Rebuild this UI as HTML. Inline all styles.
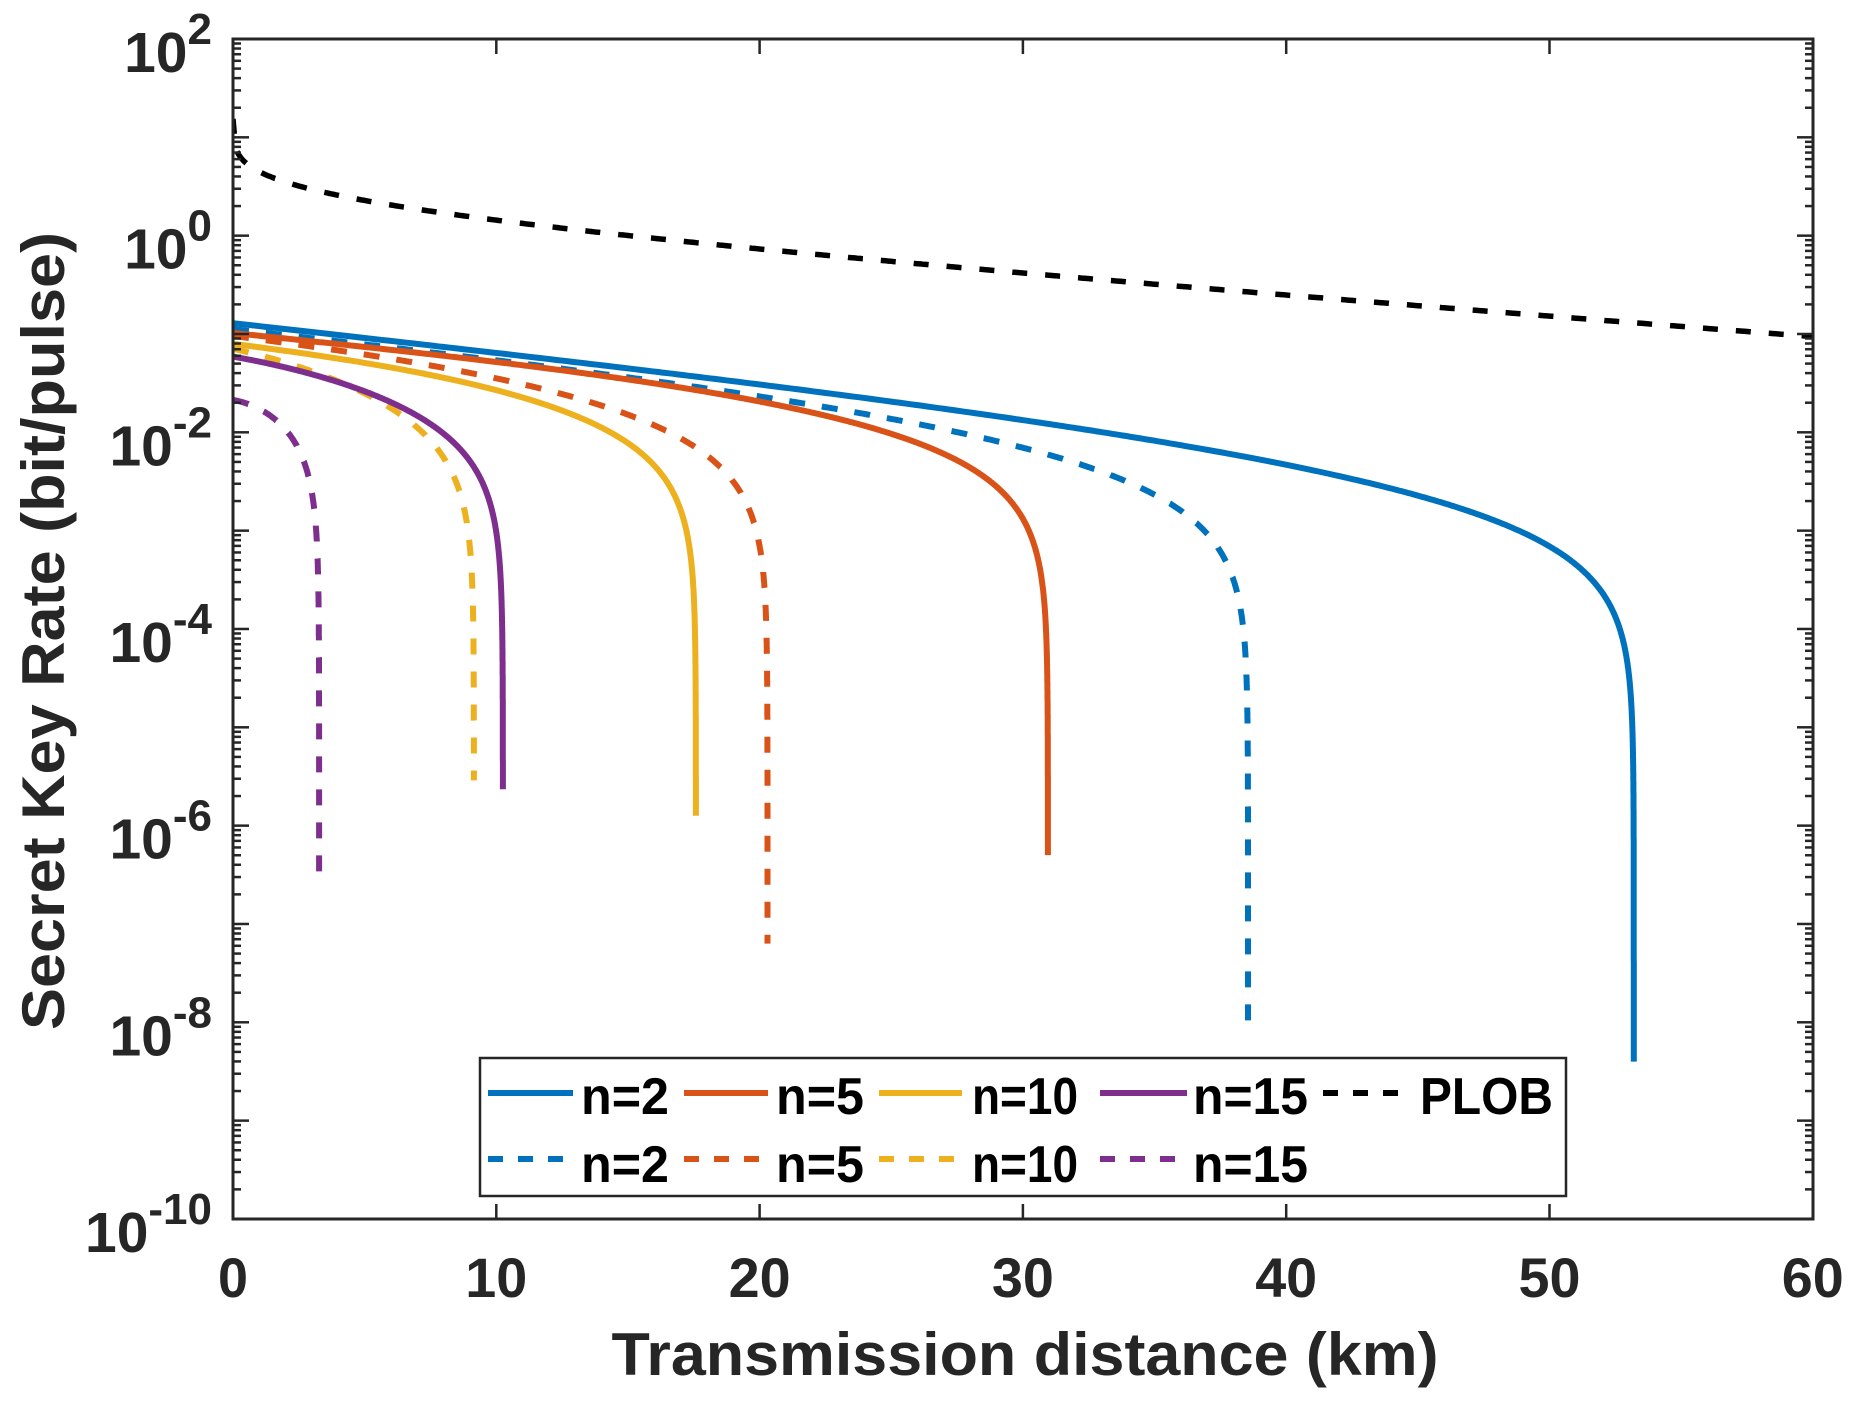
<!DOCTYPE html>
<html><head><meta charset="utf-8"><style>
html,body{margin:0;padding:0;background:#fff;}
svg{display:block;font-family:"Liberation Sans",Arial,sans-serif;font-weight:bold;}
</style></head><body>
<svg id="s" width="1858" height="1405" viewBox="0 0 1858 1405" xmlns="http://www.w3.org/2000/svg">
<rect x="0" y="0" width="1858" height="1405" fill="#fff"/>
<defs><clipPath id="c"><rect x="233" y="39" width="1580" height="1180"/></clipPath></defs>
<g id="curves" clip-path="url(#c)" fill="none" stroke-linejoin="round"></g>
<g id="ticks" stroke="#262626" stroke-width="2.5"></g>
<rect x="233" y="39" width="1580" height="1180" fill="none" stroke="#262626" stroke-width="3"/>
<g id="labels" fill="#262626"></g>
<text x="1025" y="1375" font-size="60" text-anchor="middle" fill="#262626" textLength="827" lengthAdjust="spacingAndGlyphs">Transmission distance (km)</text>
<text transform="translate(64,631) rotate(-90)" font-size="60" text-anchor="middle" fill="#262626" textLength="798" lengthAdjust="spacingAndGlyphs">Secret Key Rate (bit/pulse)</text>
<rect x="480" y="1058" width="1086" height="138" fill="#fff" stroke="#262626" stroke-width="2.5"/>
<g id="legend"></g>
</svg>
<script>
var NS="http://www.w3.org/2000/svg";
function X(d){return 233+26.33*d;}
function Y(L){return 39+98.33*(2-L);}
function el(p,t,a,txt){var e=document.createElementNS(NS,t);for(var k in a)e.setAttribute(k,a[k]);if(txt!=null)e.textContent=txt;p.appendChild(e);return e;}
var cg=document.getElementById('curves'),tg=document.getElementById('ticks'),lg=document.getElementById('labels'),leg=document.getElementById('legend');
for(var i=0;i<=6;i++){var x=X(i*10);el(tg,'line',{x1:x,y1:1219,x2:x,y2:1204});el(tg,'line',{x1:x,y1:39,x2:x,y2:54});
 var w=(i==0?30:62);
 el(lg,'text',{x:x,y:1297,'font-size':56,'text-anchor':'middle',textLength:w,lengthAdjust:'spacingAndGlyphs'},String(i*10));}
for(var e=-10;e<=2;e++){var y=Y(e);el(tg,'line',{x1:233,y1:y,x2:249,y2:y});el(tg,'line',{x1:1813,y1:y,x2:1797,y2:y});
 if(e<2){for(var m=2;m<=9;m++){var yy=Y(e+Math.log10(m));el(tg,'line',{x1:233,y1:yy,x2:241,y2:yy});el(tg,'line',{x1:1813,y1:yy,x2:1805,y2:yy});}}
 if(e%2==0){var t=el(lg,'text',{x:212,y:y+33,'text-anchor':'end'});
  el(t,'tspan',{'font-size':57},'10');el(t,'tspan',{'font-size':44,dy:-28},String(e));}}
var pts=[];for(var i=0;i<=600;i++){var d=0.0005+i*0.1;var eta=Math.pow(10,-0.02*d);var r=-Math.log2(1-eta);pts.push(X(d).toFixed(1)+','+Y(Math.log10(r)).toFixed(1));}
el(cg,'polyline',{points:pts.join(' '),stroke:'#000',"stroke-width":5.5,'stroke-dasharray':'15,18'});
var C={b:'#0072BD',o:'#D95319',y:'#EDB120',p:'#7E2F8E'};
var series=[
 [-0.89,0.03,53.2,3,-8.4,C.b,0],
 [-0.95,0.031,38.55,3,-8.0,C.b,1],
 [-0.99,0.028,30.95,3,-6.3,C.o,0],
 [-1.02,0.035,20.3,2.5,-7.2,C.o,1],
 [-1.1,0.035,17.58,2.5,-5.9,C.y,0],
 [-1.15,0.06,9.15,2,-5.54,C.y,1],
 [-1.23,0.047,10.25,2,-5.63,C.p,0],
 [-1.67,0.05,3.27,2,-6.6,C.p,1]];
series.forEach(function(s){var p=[];var N=800;
 for(var i=0;i<=N;i++){var u=i/N;var d=s[2]*(1-Math.pow(1-u,4));var f=1-Math.pow(d/s[2],s[3]);var L;
  if(f<=0)L=-99;else L=s[0]-s[1]*d+Math.log10(f);
  if(L<=s[4]){p.push(X(d).toFixed(1)+','+Y(s[4]).toFixed(1));break;}
  p.push(X(d).toFixed(1)+','+Y(L).toFixed(1));}
 var a={points:p.join(' '),stroke:s[5],'stroke-width':6};
 if(s[6])a['stroke-dasharray']='16,17';
 el(cg,'polyline',a);});
function li(x1,x2,y,col,dash){var a={x1:x1,y1:y,x2:x2,y2:y,stroke:col,'stroke-width':6};if(dash)a['stroke-dasharray']='15,15';el(leg,'line',a);}
function lt(x,y,s,w){el(leg,'text',{x:x,y:y,'font-size':52,fill:'#000',textLength:w,lengthAdjust:'spacingAndGlyphs'},s);}
var r1=1093,r2=1159,b1=1114,b2=1182;
li(488,573,r1,C.b,0);lt(581,b1,'n=2',88);
li(684,768,r1,C.o,0);lt(776,b1,'n=5',88);
li(879,962,r1,C.y,0);lt(972,b1,'n=10',106);
li(1100,1187,r1,C.p,0);lt(1193,b1,'n=15',115);
el(leg,'line',{x1:1323,y1:r1,x2:1412,y2:r1,stroke:'#000','stroke-width':6,'stroke-dasharray':'15,15'});lt(1420,b1,'PLOB',133);
li(488,573,r2,C.b,1);lt(581,b2,'n=2',88);
li(684,768,r2,C.o,1);lt(776,b2,'n=5',88);
li(879,962,r2,C.y,1);lt(972,b2,'n=10',106);
li(1100,1187,r2,C.p,1);lt(1193,b2,'n=15',115);
</script>
</body></html>
